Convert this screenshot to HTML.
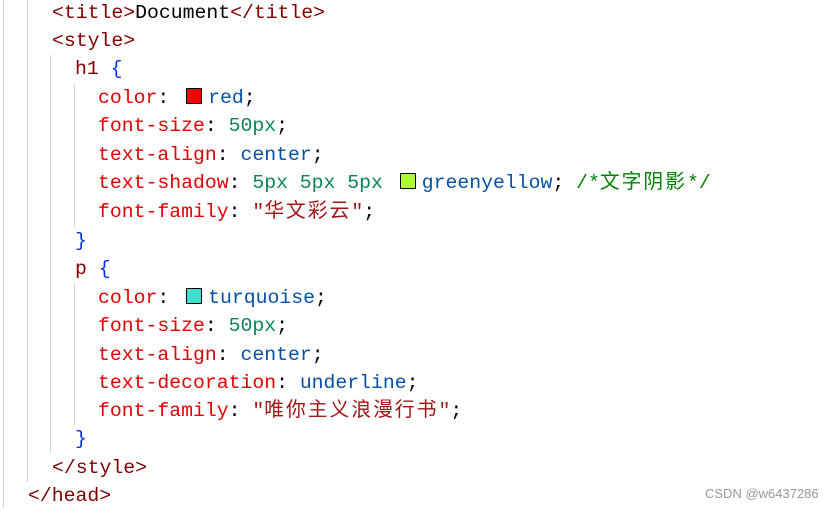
<!DOCTYPE html>
<html><head><meta charset="utf-8"><style>
body{margin:0;width:835px;height:508px;background:#fff;position:relative;overflow:hidden;}
.l{position:absolute;white-space:pre;font-family:"Liberation Mono","Noto Sans CJK SC",monospace;font-size:19.8px;line-height:28px;height:28px;}
.t{color:#800000}.p{color:#e50000}.v{color:#0451a5}.n{color:#098658}.s{color:#a31515}.c{color:#008000}.b{color:#0431fa}.k{color:#000}
.j{letter-spacing:2px}
.sw{display:inline-block;width:14px;height:14px;border:1.5px solid #000;margin:0 6px 0 5px;vertical-align:-1px;}
.g{position:absolute;width:1px;background:#d4d4d4;}
.wm{position:absolute;left:705px;top:486px;font-family:"Liberation Sans",sans-serif;font-size:13px;color:#999;}
</style></head><body>
<div class="g" style="left:3px;top:0;height:508px"></div>
<div class="g" style="left:27px;top:0;height:482px"></div>
<div class="g" style="left:50px;top:55px;height:398px"></div>
<div class="g" style="left:74px;top:84px;height:142px"></div>
<div class="g" style="left:74px;top:283px;height:142px"></div>

<div class="l t" style="left:52px;top:-1px">&lt;title&gt;<span class="k">Document</span>&lt;/title&gt;</div>
<div class="l t" style="left:52px;top:27px">&lt;style&gt;</div>
<div class="l" style="left:75px;top:55px"><span class="t">h1</span> <span class="b">{</span></div>
<div class="l" style="left:98px;top:84px"><span class="p">color</span><span class="k">: </span><span class="sw" style="background:#ff0000"></span><span class="v">red</span><span class="k">;</span></div>
<div class="l" style="left:98px;top:112px"><span class="p">font-size</span><span class="k">: </span><span class="n">50px</span><span class="k">;</span></div>
<div class="l" style="left:98px;top:141px"><span class="p">text-align</span><span class="k">: </span><span class="v">center</span><span class="k">;</span></div>
<div class="l" style="left:98px;top:169px"><span class="p">text-shadow</span><span class="k">: </span><span class="n">5px 5px 5px</span><span class="k"> </span><span class="sw" style="background:#adff2f"></span><span class="v">greenyellow</span><span class="k">; </span><span class="c">/*<span class="j">文字阴影</span>*/</span></div>
<div class="l" style="left:98px;top:198px"><span class="p">font-family</span><span class="k">: </span><span class="s">"<span class="j">华文彩云</span>"</span><span class="k">;</span></div>
<div class="l b" style="left:75px;top:227px">}</div>
<div class="l" style="left:75px;top:255px"><span class="t">p</span> <span class="b">{</span></div>
<div class="l" style="left:98px;top:284px"><span class="p">color</span><span class="k">: </span><span class="sw" style="background:#40e0d0"></span><span class="v">turquoise</span><span class="k">;</span></div>
<div class="l" style="left:98px;top:312px"><span class="p">font-size</span><span class="k">: </span><span class="n">50px</span><span class="k">;</span></div>
<div class="l" style="left:98px;top:341px"><span class="p">text-align</span><span class="k">: </span><span class="v">center</span><span class="k">;</span></div>
<div class="l" style="left:98px;top:369px"><span class="p">text-decoration</span><span class="k">: </span><span class="v">underline</span><span class="k">;</span></div>
<div class="l" style="left:98px;top:397px"><span class="p">font-family</span><span class="k">: </span><span class="s">"<span class="j">唯你主义浪漫行书</span>"</span><span class="k">;</span></div>
<div class="l b" style="left:75px;top:425px">}</div>
<div class="l t" style="left:52px;top:454px">&lt;/style&gt;</div>
<div class="l t" style="left:28px;top:482px">&lt;/head&gt;</div>
<div class="wm">CSDN @w6437286</div>
</body></html>
